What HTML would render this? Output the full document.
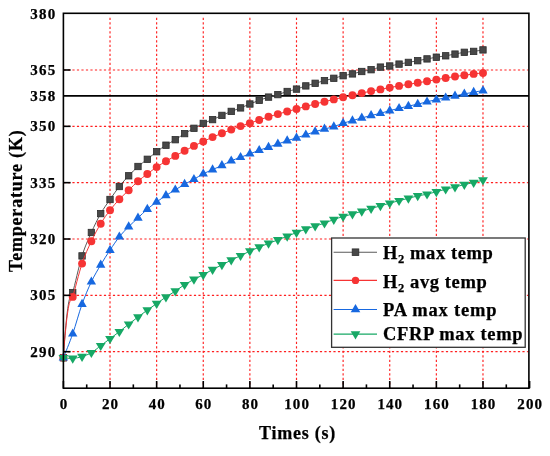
<!DOCTYPE html>
<html><head><meta charset="utf-8"><style>
html,body{margin:0;padding:0;background:#fff;}
body{width:550px;height:456px;overflow:hidden;}
svg{display:block;}
text{font-family:"Liberation Serif","Times New Roman",serif;font-weight:bold;fill:#000;stroke:#000;stroke-width:0.25px;}
</style></head><body>
<svg width="550" height="456" viewBox="0 0 550 456">
<rect x="0" y="0" width="550" height="456" fill="#fff"/>
<g stroke="#ff2020" stroke-width="1.15" stroke-dasharray="2.2 2.3" fill="none"><line x1="110.02" y1="388.9" x2="110.02" y2="15.80"/><line x1="156.64" y1="388.9" x2="156.64" y2="15.80"/><line x1="203.26" y1="388.9" x2="203.26" y2="15.80"/><line x1="249.88" y1="388.9" x2="249.88" y2="15.80"/><line x1="296.50" y1="388.9" x2="296.50" y2="15.80"/><line x1="343.12" y1="388.9" x2="343.12" y2="15.80"/><line x1="389.74" y1="388.9" x2="389.74" y2="15.80"/><line x1="436.36" y1="388.9" x2="436.36" y2="15.80"/><line x1="482.98" y1="388.9" x2="482.98" y2="15.80"/><line x1="63.4" y1="351.69" x2="527.90" y2="351.69"/><line x1="63.4" y1="295.35" x2="527.90" y2="295.35"/><line x1="63.4" y1="239.01" x2="527.90" y2="239.01"/><line x1="63.4" y1="182.67" x2="527.90" y2="182.67"/><line x1="63.4" y1="126.33" x2="527.90" y2="126.33"/><line x1="63.4" y1="69.99" x2="527.90" y2="69.99"/></g>
<line x1="63.40" y1="95.9" x2="528.90" y2="95.9" stroke="#000" stroke-width="1.7"/>
<path d="M63.40,357.80 C63.54,355.63 63.93,348.75 64.22,344.76 C64.50,340.77 64.67,338.65 65.10,333.87 C65.53,329.09 66.19,321.40 66.80,316.07 C67.42,310.75 68.13,305.40 68.81,301.92 C69.48,298.45 70.21,296.76 70.86,295.21 C71.51,293.65 70.86,299.15 72.72,292.60 C74.59,286.05 78.94,265.92 82.05,255.90 C85.16,245.88 88.26,239.55 91.37,232.50 C94.48,225.45 97.59,219.10 100.70,213.60 C103.80,208.10 106.91,204.02 110.02,199.50 C113.13,194.98 116.24,190.45 119.34,186.50 C122.45,182.55 125.56,179.13 128.67,175.80 C131.78,172.47 134.88,169.25 137.99,166.50 C141.10,163.75 144.21,161.77 147.32,159.30 C150.42,156.83 153.53,154.05 156.64,151.70 C159.75,149.35 162.86,147.20 165.96,145.20 C169.07,143.20 172.18,141.63 175.29,139.70 C178.40,137.77 181.50,135.50 184.61,133.60 C187.72,131.70 190.83,130.00 193.94,128.30 C197.04,126.60 200.15,124.85 203.26,123.40 C206.37,121.95 209.48,120.93 212.58,119.60 C215.69,118.27 218.80,116.77 221.91,115.40 C225.02,114.03 228.12,112.65 231.23,111.40 C234.34,110.15 237.45,109.13 240.56,107.90 C243.66,106.67 246.77,105.27 249.88,104.00 C252.99,102.73 256.10,101.45 259.20,100.30 C262.31,99.15 265.42,98.05 268.53,97.10 C271.64,96.15 274.74,95.53 277.85,94.60 C280.96,93.67 284.07,92.42 287.18,91.50 C290.28,90.58 293.39,90.03 296.50,89.10 C299.61,88.17 302.72,86.87 305.82,85.90 C308.93,84.93 312.04,84.18 315.15,83.30 C318.26,82.42 321.36,81.43 324.47,80.60 C327.58,79.77 330.69,79.12 333.80,78.30 C336.90,77.48 340.01,76.43 343.12,75.70 C346.23,74.97 349.34,74.60 352.44,73.90 C355.55,73.20 358.66,72.20 361.77,71.50 C364.88,70.80 367.98,70.43 371.09,69.70 C374.20,68.97 377.31,67.72 380.42,67.10 C383.52,66.48 386.63,66.50 389.74,66.00 C392.85,65.50 395.96,64.70 399.06,64.10 C402.17,63.50 405.28,62.97 408.39,62.40 C411.50,61.83 414.60,61.28 417.71,60.70 C420.82,60.12 423.93,59.48 427.04,58.90 C430.14,58.32 433.25,57.72 436.36,57.20 C439.47,56.68 442.58,56.32 445.68,55.80 C448.79,55.28 451.90,54.68 455.01,54.10 C458.12,53.52 461.22,52.75 464.33,52.30 C467.44,51.85 470.55,51.80 473.66,51.40 C476.76,51.00 481.43,50.15 482.98,49.90" fill="none" stroke="#5a5a5a" stroke-width="1"/>
<g fill="#484848" stroke="#2c2c2c" stroke-width="0.8"><rect x="60.20" y="354.60" width="6.4" height="6.4"/><rect x="69.52" y="289.40" width="6.4" height="6.4"/><rect x="78.85" y="252.70" width="6.4" height="6.4"/><rect x="88.17" y="229.30" width="6.4" height="6.4"/><rect x="97.50" y="210.40" width="6.4" height="6.4"/><rect x="106.82" y="196.30" width="6.4" height="6.4"/><rect x="116.14" y="183.30" width="6.4" height="6.4"/><rect x="125.47" y="172.60" width="6.4" height="6.4"/><rect x="134.79" y="163.30" width="6.4" height="6.4"/><rect x="144.12" y="156.10" width="6.4" height="6.4"/><rect x="153.44" y="148.50" width="6.4" height="6.4"/><rect x="162.76" y="142.00" width="6.4" height="6.4"/><rect x="172.09" y="136.50" width="6.4" height="6.4"/><rect x="181.41" y="130.40" width="6.4" height="6.4"/><rect x="190.74" y="125.10" width="6.4" height="6.4"/><rect x="200.06" y="120.20" width="6.4" height="6.4"/><rect x="209.38" y="116.40" width="6.4" height="6.4"/><rect x="218.71" y="112.20" width="6.4" height="6.4"/><rect x="228.03" y="108.20" width="6.4" height="6.4"/><rect x="237.36" y="104.70" width="6.4" height="6.4"/><rect x="246.68" y="100.80" width="6.4" height="6.4"/><rect x="256.00" y="97.10" width="6.4" height="6.4"/><rect x="265.33" y="93.90" width="6.4" height="6.4"/><rect x="274.65" y="91.40" width="6.4" height="6.4"/><rect x="283.98" y="88.30" width="6.4" height="6.4"/><rect x="293.30" y="85.90" width="6.4" height="6.4"/><rect x="302.62" y="82.70" width="6.4" height="6.4"/><rect x="311.95" y="80.10" width="6.4" height="6.4"/><rect x="321.27" y="77.40" width="6.4" height="6.4"/><rect x="330.60" y="75.10" width="6.4" height="6.4"/><rect x="339.92" y="72.50" width="6.4" height="6.4"/><rect x="349.24" y="70.70" width="6.4" height="6.4"/><rect x="358.57" y="68.30" width="6.4" height="6.4"/><rect x="367.89" y="66.50" width="6.4" height="6.4"/><rect x="377.22" y="63.90" width="6.4" height="6.4"/><rect x="386.54" y="62.80" width="6.4" height="6.4"/><rect x="395.86" y="60.90" width="6.4" height="6.4"/><rect x="405.19" y="59.20" width="6.4" height="6.4"/><rect x="414.51" y="57.50" width="6.4" height="6.4"/><rect x="423.84" y="55.70" width="6.4" height="6.4"/><rect x="433.16" y="54.00" width="6.4" height="6.4"/><rect x="442.48" y="52.60" width="6.4" height="6.4"/><rect x="451.81" y="50.90" width="6.4" height="6.4"/><rect x="461.13" y="49.10" width="6.4" height="6.4"/><rect x="470.46" y="48.20" width="6.4" height="6.4"/><rect x="479.78" y="46.70" width="6.4" height="6.4"/></g>
<path d="M63.40,357.80 C63.54,355.77 63.93,349.35 64.22,345.62 C64.50,341.89 64.67,339.92 65.10,335.45 C65.53,330.98 66.19,323.80 66.80,318.82 C67.42,313.85 68.13,308.86 68.81,305.61 C69.48,302.36 70.21,300.79 70.86,299.34 C71.51,297.88 70.86,302.86 72.72,296.90 C74.59,290.94 78.94,272.88 82.05,263.60 C85.16,254.32 88.26,247.85 91.37,241.20 C94.48,234.55 97.59,228.87 100.70,223.70 C103.80,218.53 106.91,214.27 110.02,210.20 C113.13,206.13 116.24,202.62 119.34,199.30 C122.45,195.98 125.56,193.32 128.67,190.30 C131.78,187.28 134.88,183.92 137.99,181.20 C141.10,178.48 144.21,176.35 147.32,174.00 C150.42,171.65 153.53,169.23 156.64,167.10 C159.75,164.97 162.86,163.07 165.96,161.20 C169.07,159.33 172.18,157.63 175.29,155.90 C178.40,154.17 181.50,152.47 184.61,150.80 C187.72,149.13 190.83,147.45 193.94,145.90 C197.04,144.35 200.15,142.97 203.26,141.50 C206.37,140.03 209.48,138.47 212.58,137.10 C215.69,135.73 218.80,134.55 221.91,133.30 C225.02,132.05 228.12,130.80 231.23,129.60 C234.34,128.40 237.45,127.17 240.56,126.10 C243.66,125.03 246.77,124.22 249.88,123.20 C252.99,122.18 256.10,121.08 259.20,120.00 C262.31,118.92 265.42,117.68 268.53,116.70 C271.64,115.72 274.74,114.97 277.85,114.10 C280.96,113.23 284.07,112.35 287.18,111.50 C290.28,110.65 293.39,109.85 296.50,109.00 C299.61,108.15 302.72,107.23 305.82,106.40 C308.93,105.57 312.04,104.78 315.15,104.00 C318.26,103.22 321.36,102.47 324.47,101.70 C327.58,100.93 330.69,100.13 333.80,99.40 C336.90,98.67 340.01,97.98 343.12,97.30 C346.23,96.62 349.34,96.00 352.44,95.30 C355.55,94.60 358.66,93.80 361.77,93.10 C364.88,92.40 367.98,91.72 371.09,91.10 C374.20,90.48 377.31,89.98 380.42,89.40 C383.52,88.82 386.63,88.18 389.74,87.60 C392.85,87.02 395.96,86.45 399.06,85.90 C402.17,85.35 405.28,84.82 408.39,84.30 C411.50,83.78 414.60,83.30 417.71,82.80 C420.82,82.30 423.93,81.83 427.04,81.30 C430.14,80.77 433.25,80.15 436.36,79.60 C439.47,79.05 442.58,78.52 445.68,78.00 C448.79,77.48 451.90,76.95 455.01,76.50 C458.12,76.05 461.22,75.73 464.33,75.30 C467.44,74.87 470.55,74.28 473.66,73.90 C476.76,73.52 481.43,73.15 482.98,73.00" fill="none" stroke="#f63434" stroke-width="1"/>
<g fill="#f63434"><circle cx="63.40" cy="357.80" r="3.95"/><circle cx="72.72" cy="296.90" r="3.95"/><circle cx="82.05" cy="263.60" r="3.95"/><circle cx="91.37" cy="241.20" r="3.95"/><circle cx="100.70" cy="223.70" r="3.95"/><circle cx="110.02" cy="210.20" r="3.95"/><circle cx="119.34" cy="199.30" r="3.95"/><circle cx="128.67" cy="190.30" r="3.95"/><circle cx="137.99" cy="181.20" r="3.95"/><circle cx="147.32" cy="174.00" r="3.95"/><circle cx="156.64" cy="167.10" r="3.95"/><circle cx="165.96" cy="161.20" r="3.95"/><circle cx="175.29" cy="155.90" r="3.95"/><circle cx="184.61" cy="150.80" r="3.95"/><circle cx="193.94" cy="145.90" r="3.95"/><circle cx="203.26" cy="141.50" r="3.95"/><circle cx="212.58" cy="137.10" r="3.95"/><circle cx="221.91" cy="133.30" r="3.95"/><circle cx="231.23" cy="129.60" r="3.95"/><circle cx="240.56" cy="126.10" r="3.95"/><circle cx="249.88" cy="123.20" r="3.95"/><circle cx="259.20" cy="120.00" r="3.95"/><circle cx="268.53" cy="116.70" r="3.95"/><circle cx="277.85" cy="114.10" r="3.95"/><circle cx="287.18" cy="111.50" r="3.95"/><circle cx="296.50" cy="109.00" r="3.95"/><circle cx="305.82" cy="106.40" r="3.95"/><circle cx="315.15" cy="104.00" r="3.95"/><circle cx="324.47" cy="101.70" r="3.95"/><circle cx="333.80" cy="99.40" r="3.95"/><circle cx="343.12" cy="97.30" r="3.95"/><circle cx="352.44" cy="95.30" r="3.95"/><circle cx="361.77" cy="93.10" r="3.95"/><circle cx="371.09" cy="91.10" r="3.95"/><circle cx="380.42" cy="89.40" r="3.95"/><circle cx="389.74" cy="87.60" r="3.95"/><circle cx="399.06" cy="85.90" r="3.95"/><circle cx="408.39" cy="84.30" r="3.95"/><circle cx="417.71" cy="82.80" r="3.95"/><circle cx="427.04" cy="81.30" r="3.95"/><circle cx="436.36" cy="79.60" r="3.95"/><circle cx="445.68" cy="78.00" r="3.95"/><circle cx="455.01" cy="76.50" r="3.95"/><circle cx="464.33" cy="75.30" r="3.95"/><circle cx="473.66" cy="73.90" r="3.95"/><circle cx="482.98" cy="73.00" r="3.95"/></g>
<path d="M63.40,357.80 C64.95,353.80 69.62,342.73 72.72,333.80 C75.83,324.87 78.94,312.87 82.05,304.20 C85.16,295.53 88.26,288.35 91.37,281.80 C94.48,275.25 97.59,270.18 100.70,264.90 C103.80,259.62 106.91,254.78 110.02,250.10 C113.13,245.42 116.24,240.70 119.34,236.80 C122.45,232.90 125.56,229.85 128.67,226.70 C131.78,223.55 134.88,220.83 137.99,217.90 C141.10,214.97 144.21,211.75 147.32,209.10 C150.42,206.45 153.53,204.27 156.64,202.00 C159.75,199.73 162.86,197.53 165.96,195.50 C169.07,193.47 172.18,191.68 175.29,189.80 C178.40,187.92 181.50,185.95 184.61,184.20 C187.72,182.45 190.83,181.03 193.94,179.30 C197.04,177.57 200.15,175.42 203.26,173.80 C206.37,172.18 209.48,170.98 212.58,169.60 C215.69,168.22 218.80,166.97 221.91,165.50 C225.02,164.03 228.12,162.17 231.23,160.80 C234.34,159.43 237.45,158.47 240.56,157.30 C243.66,156.13 246.77,154.97 249.88,153.80 C252.99,152.63 256.10,151.42 259.20,150.30 C262.31,149.18 265.42,148.15 268.53,147.10 C271.64,146.05 274.74,145.07 277.85,144.00 C280.96,142.93 284.07,141.72 287.18,140.70 C290.28,139.68 293.39,138.88 296.50,137.90 C299.61,136.92 302.72,135.85 305.82,134.80 C308.93,133.75 312.04,132.57 315.15,131.60 C318.26,130.63 321.36,129.83 324.47,129.00 C327.58,128.17 330.69,127.57 333.80,126.60 C336.90,125.63 340.01,124.20 343.12,123.20 C346.23,122.20 349.34,121.48 352.44,120.60 C355.55,119.72 358.66,118.75 361.77,117.90 C364.88,117.05 367.98,116.27 371.09,115.50 C374.20,114.73 377.31,114.12 380.42,113.30 C383.52,112.48 386.63,111.43 389.74,110.60 C392.85,109.77 395.96,109.05 399.06,108.30 C402.17,107.55 405.28,106.78 408.39,106.10 C411.50,105.42 414.60,104.92 417.71,104.20 C420.82,103.48 423.93,102.57 427.04,101.80 C430.14,101.03 433.25,100.27 436.36,99.60 C439.47,98.93 442.58,98.42 445.68,97.80 C448.79,97.18 451.90,96.55 455.01,95.90 C458.12,95.25 461.22,94.52 464.33,93.90 C467.44,93.28 470.55,92.75 473.66,92.20 C476.76,91.65 481.43,90.87 482.98,90.60" fill="none" stroke="#1768e0" stroke-width="1"/>
<g fill="#1768e0"><path d="M63.40,352.40 L68.10,360.60 L58.70,360.60 Z"/><path d="M72.72,328.40 L77.42,336.60 L68.02,336.60 Z"/><path d="M82.05,298.80 L86.75,307.00 L77.35,307.00 Z"/><path d="M91.37,276.40 L96.07,284.60 L86.67,284.60 Z"/><path d="M100.70,259.50 L105.40,267.70 L96.00,267.70 Z"/><path d="M110.02,244.70 L114.72,252.90 L105.32,252.90 Z"/><path d="M119.34,231.40 L124.04,239.60 L114.64,239.60 Z"/><path d="M128.67,221.30 L133.37,229.50 L123.97,229.50 Z"/><path d="M137.99,212.50 L142.69,220.70 L133.29,220.70 Z"/><path d="M147.32,203.70 L152.02,211.90 L142.62,211.90 Z"/><path d="M156.64,196.60 L161.34,204.80 L151.94,204.80 Z"/><path d="M165.96,190.10 L170.66,198.30 L161.26,198.30 Z"/><path d="M175.29,184.40 L179.99,192.60 L170.59,192.60 Z"/><path d="M184.61,178.80 L189.31,187.00 L179.91,187.00 Z"/><path d="M193.94,173.90 L198.64,182.10 L189.24,182.10 Z"/><path d="M203.26,168.40 L207.96,176.60 L198.56,176.60 Z"/><path d="M212.58,164.20 L217.28,172.40 L207.88,172.40 Z"/><path d="M221.91,160.10 L226.61,168.30 L217.21,168.30 Z"/><path d="M231.23,155.40 L235.93,163.60 L226.53,163.60 Z"/><path d="M240.56,151.90 L245.26,160.10 L235.86,160.10 Z"/><path d="M249.88,148.40 L254.58,156.60 L245.18,156.60 Z"/><path d="M259.20,144.90 L263.90,153.10 L254.50,153.10 Z"/><path d="M268.53,141.70 L273.23,149.90 L263.83,149.90 Z"/><path d="M277.85,138.60 L282.55,146.80 L273.15,146.80 Z"/><path d="M287.18,135.30 L291.88,143.50 L282.48,143.50 Z"/><path d="M296.50,132.50 L301.20,140.70 L291.80,140.70 Z"/><path d="M305.82,129.40 L310.52,137.60 L301.12,137.60 Z"/><path d="M315.15,126.20 L319.85,134.40 L310.45,134.40 Z"/><path d="M324.47,123.60 L329.17,131.80 L319.77,131.80 Z"/><path d="M333.80,121.20 L338.50,129.40 L329.10,129.40 Z"/><path d="M343.12,117.80 L347.82,126.00 L338.42,126.00 Z"/><path d="M352.44,115.20 L357.14,123.40 L347.74,123.40 Z"/><path d="M361.77,112.50 L366.47,120.70 L357.07,120.70 Z"/><path d="M371.09,110.10 L375.79,118.30 L366.39,118.30 Z"/><path d="M380.42,107.90 L385.12,116.10 L375.72,116.10 Z"/><path d="M389.74,105.20 L394.44,113.40 L385.04,113.40 Z"/><path d="M399.06,102.90 L403.76,111.10 L394.36,111.10 Z"/><path d="M408.39,100.70 L413.09,108.90 L403.69,108.90 Z"/><path d="M417.71,98.80 L422.41,107.00 L413.01,107.00 Z"/><path d="M427.04,96.40 L431.74,104.60 L422.34,104.60 Z"/><path d="M436.36,94.20 L441.06,102.40 L431.66,102.40 Z"/><path d="M445.68,92.40 L450.38,100.60 L440.98,100.60 Z"/><path d="M455.01,90.50 L459.71,98.70 L450.31,98.70 Z"/><path d="M464.33,88.50 L469.03,96.70 L459.63,96.70 Z"/><path d="M473.66,86.80 L478.36,95.00 L468.96,95.00 Z"/><path d="M482.98,85.20 L487.68,93.40 L478.28,93.40 Z"/></g>
<path d="M63.40,357.80 C64.95,357.90 69.62,358.60 72.72,358.40 C75.83,358.20 78.94,357.55 82.05,356.60 C85.16,355.65 88.26,354.52 91.37,352.70 C94.48,350.88 97.59,348.03 100.70,345.70 C103.80,343.37 106.91,341.03 110.02,338.70 C113.13,336.37 116.24,334.12 119.34,331.70 C122.45,329.28 125.56,326.65 128.67,324.20 C131.78,321.75 134.88,319.35 137.99,317.00 C141.10,314.65 144.21,312.33 147.32,310.10 C150.42,307.87 153.53,305.78 156.64,303.60 C159.75,301.42 162.86,299.08 165.96,297.00 C169.07,294.92 172.18,293.15 175.29,291.10 C178.40,289.05 181.50,286.65 184.61,284.70 C187.72,282.75 190.83,281.05 193.94,279.40 C197.04,277.75 200.15,276.45 203.26,274.80 C206.37,273.15 209.48,271.15 212.58,269.50 C215.69,267.85 218.80,266.47 221.91,264.90 C225.02,263.33 228.12,261.63 231.23,260.10 C234.34,258.57 237.45,257.20 240.56,255.70 C243.66,254.20 246.77,252.53 249.88,251.10 C252.99,249.67 256.10,248.38 259.20,247.10 C262.31,245.82 265.42,244.60 268.53,243.40 C271.64,242.20 274.74,241.08 277.85,239.90 C280.96,238.72 284.07,237.53 287.18,236.30 C290.28,235.07 293.39,233.70 296.50,232.50 C299.61,231.30 302.72,230.18 305.82,229.10 C308.93,228.02 312.04,226.98 315.15,226.00 C318.26,225.02 321.36,224.28 324.47,223.20 C327.58,222.12 330.69,220.60 333.80,219.50 C336.90,218.40 340.01,217.52 343.12,216.60 C346.23,215.68 349.34,214.88 352.44,214.00 C355.55,213.12 358.66,212.22 361.77,211.30 C364.88,210.38 367.98,209.40 371.09,208.50 C374.20,207.60 377.31,206.78 380.42,205.90 C383.52,205.02 386.63,204.07 389.74,203.20 C392.85,202.33 395.96,201.52 399.06,200.70 C402.17,199.88 405.28,199.10 408.39,198.30 C411.50,197.50 414.60,196.58 417.71,195.90 C420.82,195.22 423.93,194.88 427.04,194.20 C430.14,193.52 433.25,192.63 436.36,191.80 C439.47,190.97 442.58,190.00 445.68,189.20 C448.79,188.40 451.90,187.77 455.01,187.00 C458.12,186.23 461.22,185.35 464.33,184.60 C467.44,183.85 470.55,183.25 473.66,182.50 C476.76,181.75 481.43,180.50 482.98,180.10" fill="none" stroke="#16a865" stroke-width="1"/>
<g fill="#16a865"><path d="M58.50,355.00 L68.30,355.00 L63.40,363.20 Z"/><path d="M67.82,355.60 L77.62,355.60 L72.72,363.80 Z"/><path d="M77.15,353.80 L86.95,353.80 L82.05,362.00 Z"/><path d="M86.47,349.90 L96.27,349.90 L91.37,358.10 Z"/><path d="M95.80,342.90 L105.60,342.90 L100.70,351.10 Z"/><path d="M105.12,335.90 L114.92,335.90 L110.02,344.10 Z"/><path d="M114.44,328.90 L124.24,328.90 L119.34,337.10 Z"/><path d="M123.77,321.40 L133.57,321.40 L128.67,329.60 Z"/><path d="M133.09,314.20 L142.89,314.20 L137.99,322.40 Z"/><path d="M142.42,307.30 L152.22,307.30 L147.32,315.50 Z"/><path d="M151.74,300.80 L161.54,300.80 L156.64,309.00 Z"/><path d="M161.06,294.20 L170.86,294.20 L165.96,302.40 Z"/><path d="M170.39,288.30 L180.19,288.30 L175.29,296.50 Z"/><path d="M179.71,281.90 L189.51,281.90 L184.61,290.10 Z"/><path d="M189.04,276.60 L198.84,276.60 L193.94,284.80 Z"/><path d="M198.36,272.00 L208.16,272.00 L203.26,280.20 Z"/><path d="M207.68,266.70 L217.48,266.70 L212.58,274.90 Z"/><path d="M217.01,262.10 L226.81,262.10 L221.91,270.30 Z"/><path d="M226.33,257.30 L236.13,257.30 L231.23,265.50 Z"/><path d="M235.66,252.90 L245.46,252.90 L240.56,261.10 Z"/><path d="M244.98,248.30 L254.78,248.30 L249.88,256.50 Z"/><path d="M254.30,244.30 L264.10,244.30 L259.20,252.50 Z"/><path d="M263.63,240.60 L273.43,240.60 L268.53,248.80 Z"/><path d="M272.95,237.10 L282.75,237.10 L277.85,245.30 Z"/><path d="M282.28,233.50 L292.08,233.50 L287.18,241.70 Z"/><path d="M291.60,229.70 L301.40,229.70 L296.50,237.90 Z"/><path d="M300.92,226.30 L310.72,226.30 L305.82,234.50 Z"/><path d="M310.25,223.20 L320.05,223.20 L315.15,231.40 Z"/><path d="M319.57,220.40 L329.37,220.40 L324.47,228.60 Z"/><path d="M328.90,216.70 L338.70,216.70 L333.80,224.90 Z"/><path d="M338.22,213.80 L348.02,213.80 L343.12,222.00 Z"/><path d="M347.54,211.20 L357.34,211.20 L352.44,219.40 Z"/><path d="M356.87,208.50 L366.67,208.50 L361.77,216.70 Z"/><path d="M366.19,205.70 L375.99,205.70 L371.09,213.90 Z"/><path d="M375.52,203.10 L385.32,203.10 L380.42,211.30 Z"/><path d="M384.84,200.40 L394.64,200.40 L389.74,208.60 Z"/><path d="M394.16,197.90 L403.96,197.90 L399.06,206.10 Z"/><path d="M403.49,195.50 L413.29,195.50 L408.39,203.70 Z"/><path d="M412.81,193.10 L422.61,193.10 L417.71,201.30 Z"/><path d="M422.14,191.40 L431.94,191.40 L427.04,199.60 Z"/><path d="M431.46,189.00 L441.26,189.00 L436.36,197.20 Z"/><path d="M440.78,186.40 L450.58,186.40 L445.68,194.60 Z"/><path d="M450.11,184.20 L459.91,184.20 L455.01,192.40 Z"/><path d="M459.43,181.80 L469.23,181.80 L464.33,190.00 Z"/><path d="M468.76,179.70 L478.56,179.70 L473.66,187.90 Z"/><path d="M478.08,177.30 L487.88,177.30 L482.98,185.50 Z"/></g>
<rect x="63.40" y="13.30" width="465.50" height="374.90" fill="none" stroke="#000" stroke-width="1.6"/>
<g stroke="#000" stroke-width="1.6"><line x1="63.40" y1="388.20" x2="63.40" y2="381.00"/><line x1="110.02" y1="388.20" x2="110.02" y2="381.00"/><line x1="156.64" y1="388.20" x2="156.64" y2="381.00"/><line x1="203.26" y1="388.20" x2="203.26" y2="381.00"/><line x1="249.88" y1="388.20" x2="249.88" y2="381.00"/><line x1="296.50" y1="388.20" x2="296.50" y2="381.00"/><line x1="343.12" y1="388.20" x2="343.12" y2="381.00"/><line x1="389.74" y1="388.20" x2="389.74" y2="381.00"/><line x1="436.36" y1="388.20" x2="436.36" y2="381.00"/><line x1="482.98" y1="388.20" x2="482.98" y2="381.00"/><line x1="529.60" y1="388.20" x2="529.60" y2="381.00"/><line x1="86.71" y1="388.20" x2="86.71" y2="384.40"/><line x1="133.33" y1="388.20" x2="133.33" y2="384.40"/><line x1="179.95" y1="388.20" x2="179.95" y2="384.40"/><line x1="226.57" y1="388.20" x2="226.57" y2="384.40"/><line x1="273.19" y1="388.20" x2="273.19" y2="384.40"/><line x1="319.81" y1="388.20" x2="319.81" y2="384.40"/><line x1="366.43" y1="388.20" x2="366.43" y2="384.40"/><line x1="413.05" y1="388.20" x2="413.05" y2="384.40"/><line x1="459.67" y1="388.20" x2="459.67" y2="384.40"/><line x1="506.29" y1="388.20" x2="506.29" y2="384.40"/><line x1="63.40" y1="351.69" x2="70.60" y2="351.69"/><line x1="63.40" y1="295.35" x2="70.60" y2="295.35"/><line x1="63.40" y1="239.01" x2="70.60" y2="239.01"/><line x1="63.40" y1="182.67" x2="70.60" y2="182.67"/><line x1="63.40" y1="126.33" x2="70.60" y2="126.33"/><line x1="63.40" y1="69.99" x2="70.60" y2="69.99"/></g>
<text x="56.6" y="356.79" text-anchor="end" font-size="15" letter-spacing="1.3">290</text><text x="56.6" y="300.45" text-anchor="end" font-size="15" letter-spacing="1.3">305</text><text x="56.6" y="244.11" text-anchor="end" font-size="15" letter-spacing="1.3">320</text><text x="56.6" y="187.77" text-anchor="end" font-size="15" letter-spacing="1.3">335</text><text x="56.6" y="131.43" text-anchor="end" font-size="15" letter-spacing="1.3">350</text><text x="56.6" y="101.38" text-anchor="end" font-size="15" letter-spacing="1.3">358</text><text x="56.6" y="75.09" text-anchor="end" font-size="15" letter-spacing="1.3">365</text><text x="56.6" y="18.75" text-anchor="end" font-size="15" letter-spacing="1.3">380</text><text x="64.00" y="409.2" text-anchor="middle" font-size="15" letter-spacing="1.1">0</text><text x="110.62" y="409.2" text-anchor="middle" font-size="15" letter-spacing="1.1">20</text><text x="157.24" y="409.2" text-anchor="middle" font-size="15" letter-spacing="1.1">40</text><text x="203.86" y="409.2" text-anchor="middle" font-size="15" letter-spacing="1.1">60</text><text x="250.48" y="409.2" text-anchor="middle" font-size="15" letter-spacing="1.1">80</text><text x="297.10" y="409.2" text-anchor="middle" font-size="15" letter-spacing="1.1">100</text><text x="343.72" y="409.2" text-anchor="middle" font-size="15" letter-spacing="1.1">120</text><text x="390.34" y="409.2" text-anchor="middle" font-size="15" letter-spacing="1.1">140</text><text x="436.96" y="409.2" text-anchor="middle" font-size="15" letter-spacing="1.1">160</text><text x="483.58" y="409.2" text-anchor="middle" font-size="15" letter-spacing="1.1">180</text><text x="530.20" y="409.2" text-anchor="middle" font-size="15" letter-spacing="1.1">200</text>
<text x="259" y="439.2" font-size="18" letter-spacing="0.75">Times (s)</text>
<text transform="translate(22.2,272) rotate(-90)" x="0" y="0" font-size="18" letter-spacing="0.8">Temperature (K)</text>
<rect x="331.6" y="238.0" width="193.6" height="109.3" fill="#fff" stroke="#333" stroke-width="1.3"/>
<line x1="333.6" y1="252.2" x2="377.0" y2="252.2" stroke="#5a5a5a" stroke-width="1.1"/><g fill="#484848" stroke="#2c2c2c" stroke-width="0.8"><rect x="352.20" y="248.90" width="6.6" height="6.6"/></g><text x="383" y="258.7" font-size="18.5" letter-spacing="0.6">H<tspan font-size="12.5" dy="4.6">2</tspan><tspan dy="-4.6"> max temp</tspan></text>
<line x1="333.6" y1="280.4" x2="377.0" y2="280.4" stroke="#f63434" stroke-width="1.1"/><g fill="#f63434"><circle cx="355.50" cy="280.40" r="3.7"/></g><text x="383" y="287.7" font-size="18.5" letter-spacing="0.6">H<tspan font-size="12.5" dy="4.6">2</tspan><tspan dy="-4.6"> avg temp</tspan></text>
<line x1="333.6" y1="309.5" x2="377.0" y2="309.5" stroke="#1768e0" stroke-width="1.1"/><g fill="#1768e0"><path d="M355.50,304.10 L360.30,312.30 L350.70,312.30 Z"/></g><text x="383" y="315.7" font-size="18.5" letter-spacing="0.8">PA max temp</text>
<line x1="333.6" y1="334.1" x2="377.0" y2="334.1" stroke="#16a865" stroke-width="1.1"/><g fill="#16a865"><path d="M350.70,331.20 L360.30,331.20 L355.50,339.60 Z"/></g><text x="383" y="340.4" font-size="18.5" letter-spacing="0.67">CFRP max temp</text>
</svg>
</body></html>
